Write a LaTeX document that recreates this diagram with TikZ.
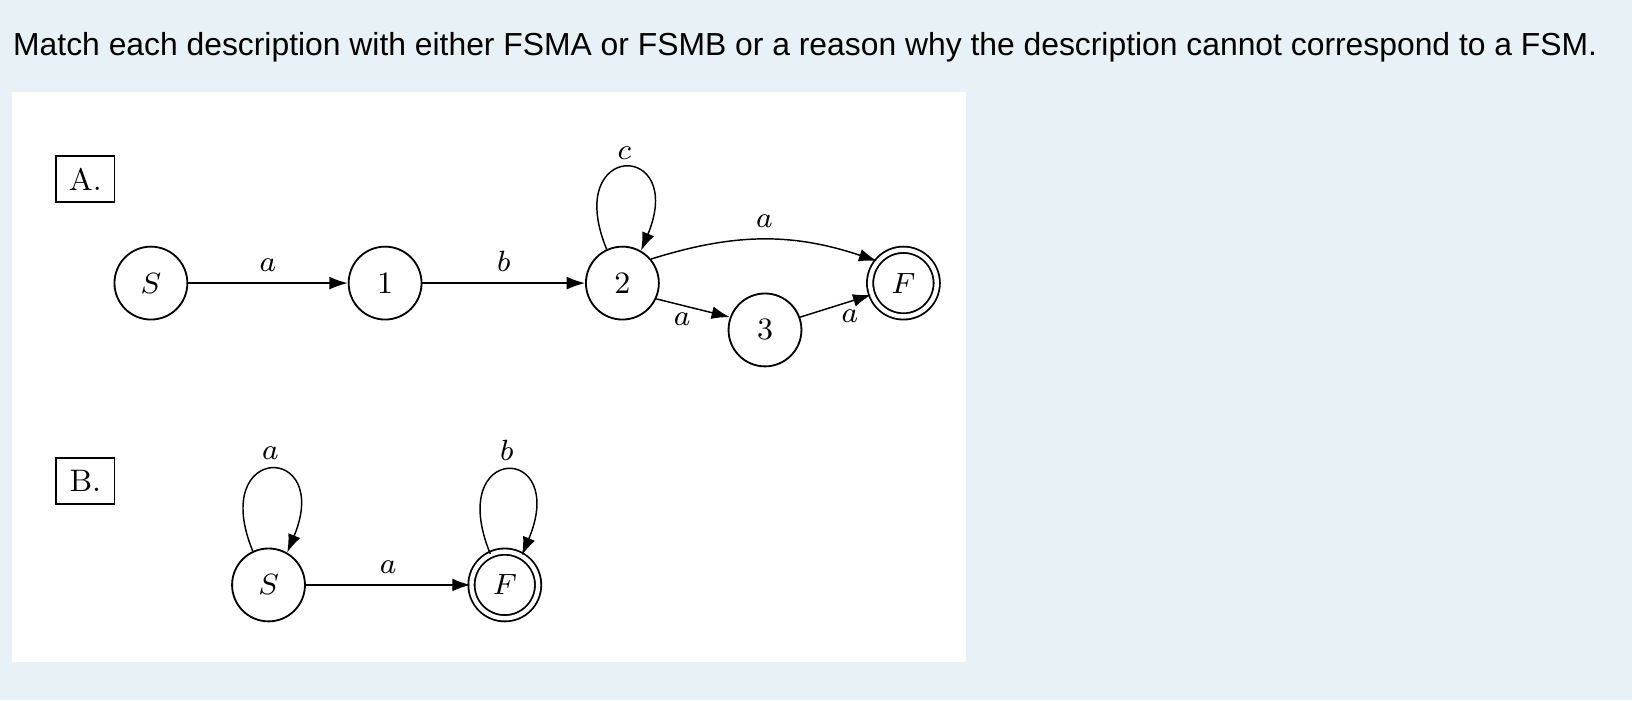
\documentclass[tikz,border=0pt]{standalone}
\usepackage{fontspec}
\newfontfamily\titlefont{Liberation Sans}
\usetikzlibrary{arrows.meta}
\definecolor{bgc}{HTML}{E8F1F5}
\begin{document}
\begin{tikzpicture}[x=0.01cm,y=-0.01cm,
  st/.style={circle,draw,line width=0.5pt,minimum size=0.7cm,inner sep=0pt,font=\fontsize{8.5}{10}\selectfont},
  acc/.style={st,double,double distance=1.2pt,minimum size=0.64cm},
  lab/.style={draw,line width=0.5pt,minimum width=0.56cm,minimum height=0.44cm,inner sep=1pt,font=\fontsize{8.5}{10}\selectfont},
  el/.style={font=\fontsize{8.5}{10}\selectfont,inner sep=1pt},
  tr/.style={-{Latex[length=5pt,width=3.5pt]},line width=0.4pt}]
\fill[bgc] (0,0) rectangle (1568,673);
\useasboundingbox (0,0) rectangle (1568,673);
\fill[white] (12,88) rectangle (928,636);
\node[anchor=west,inner sep=0pt,font=\titlefont\fontsize{8.7}{10}\selectfont] (title) at (12,45) {Match each description with either FSMA or FSMB or a reason why the description cannot correspond to a FSM.};
\node[lab] (A) at (82,172) {A.};
\node[st] (S) at (145,272) {$S$};
\node[st] (n1) at (370,272) {1};
\node[st] (n2) at (598,272) {2};
\node[acc] (F) at (868,272) {$F$};
\node[st] (n3) at (735,317) {3};
\draw[tr] (S) -- node[el,above=2pt]{$a$} (n1);
\draw[tr] (n1) -- node[el,above=2pt]{$b$} (n2);
\draw[tr] (n2.115) .. controls (540,135) and (660,135) .. node[el,above=1pt]{$c$} (n2.60);
\draw[tr] (n2.40) to[bend left=18] node[el,above=2pt]{$a$} (F.140);
\draw[tr] (n2.-25) -- node[el,below=1pt,pos=0.35]{$a$} (n3.160);
\draw[tr] (n3.20) -- node[el,below=1pt,pos=0.7]{$a$} (F.-160);
\node[lab] (B) at (82,462) {B.};
\node[st] (S2) at (258,562) {$S$};
\node[acc] (F2) at (485,562) {$F$};
\draw[tr] (S2.115) .. controls (200,425) and (320,425) .. node[el,above=1.5pt]{$a$} (S2.60);
\draw[tr] (F2.115) .. controls (427,425) and (547,425) .. node[el,above=1.5pt]{$b$} (F2.60);
\draw[tr] (S2) -- node[el,above=2pt]{$a$} (F2);
\end{tikzpicture}
\end{document}
